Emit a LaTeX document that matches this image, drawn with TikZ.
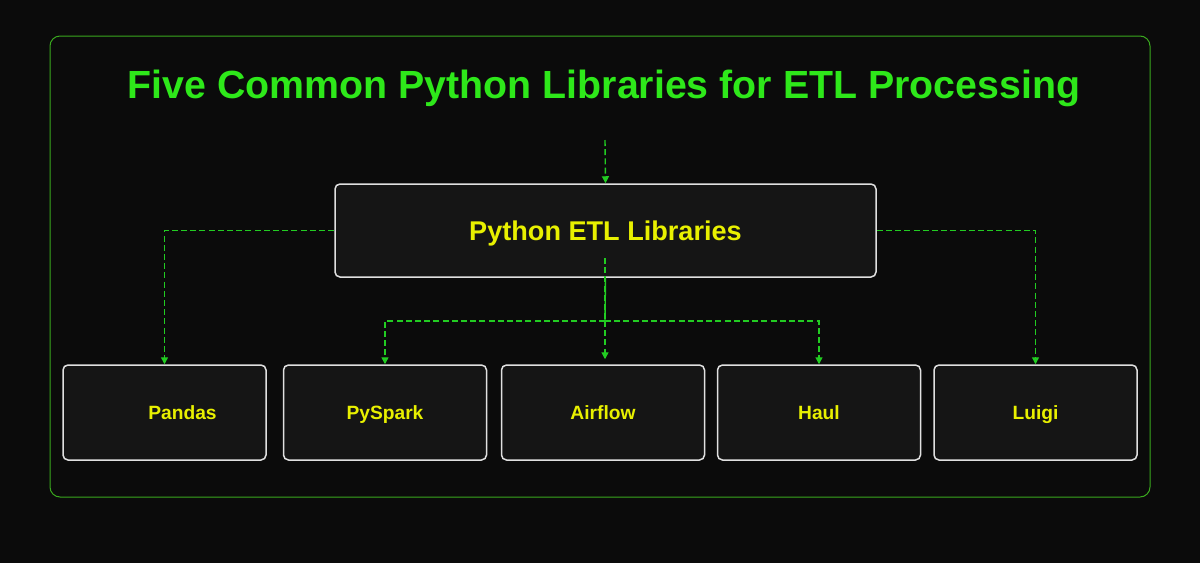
\documentclass[tikz,border=0pt]{standalone}
\usepackage{fontspec}
\setmainfont{Liberation Sans}
\usepackage{tikz}
\usetikzlibrary{positioning, arrows.meta}

\definecolor{bgdark}{HTML}{0B0B0B}
\definecolor{boxfill}{HTML}{151515}
\definecolor{frameline}{HTML}{3AA81E}
\definecolor{titlegreen}{HTML}{2EE81A}
\definecolor{linkgreen}{HTML}{22CC22}
\definecolor{labelyellow}{HTML}{E8F000}

\tikzset{
  libbox/.style={draw=white!88!black, fill=boxfill, line width=0.75pt, rounded corners=2.5pt,
    inner sep=0pt, minimum width=101.5pt, minimum height=47.5pt, text depth=0pt,
    text=labelyellow, font=\fontsize{9.6}{11}\selectfont\bfseries},
  link/.style={linkgreen, line width=0.7pt, dash pattern=on 3pt off 1.6pt},
  tip/.style={-{Triangle[length=3.5pt,width=3.5pt]}}
}

\begin{document}
\begin{tikzpicture}[x=0.5pt,y=-0.5pt]
\fill[bgdark] (0,0) rectangle (1200,563);
\draw[frameline, line width=0.5pt, rounded corners=5pt] (50,36) rectangle (1150,497);

\node[anchor=base, text=titlegreen, font=\fontsize{19.65}{22}\selectfont\bfseries] (title) at (604,98)
  {Five Common Python Libraries for ETL Processing};

% main box
\node[libbox, minimum width=270.5pt, minimum height=46.5pt,
  font=\fontsize{13.55}{15}\selectfont\bfseries] (etl) at (605.5,230.5) {Python ETL Libraries};

% the five libraries
\node[libbox] (pandas)  at (164.5,412.5) {\hspace*{18pt}Pandas};
\node[libbox] (pyspark) at (385,412.5)   {PySpark};
\node[libbox] (airflow) at (603,412.5)   {Airflow};
\node[libbox] (haul)    at (819,412.5)   {Haul};
\node[libbox] (luigi)   at (1035.5,412.5) {Luigi};

% connectors
\coordinate (src) at (605,140);
\coordinate (inner) at (605,258);
\coordinate (split) at (605,321);
\draw[link,tip] (src) -- (etl.north);
\draw[link,tip] (etl.west) -| (pandas.north);
\draw[link,tip] (etl.east) -| (luigi.north);
\draw[linkgreen, line width=0.7pt] (etl.south) -- (split);
\draw[link] (inner) -- (split);
\draw[link,tip] (split) -| (pyspark.north);
\draw[link,tip] (split) -| (haul.north);
\draw[link,tip,shorten >=2.5pt] (split) -- (split |- airflow.north);
\end{tikzpicture}
\end{document}
